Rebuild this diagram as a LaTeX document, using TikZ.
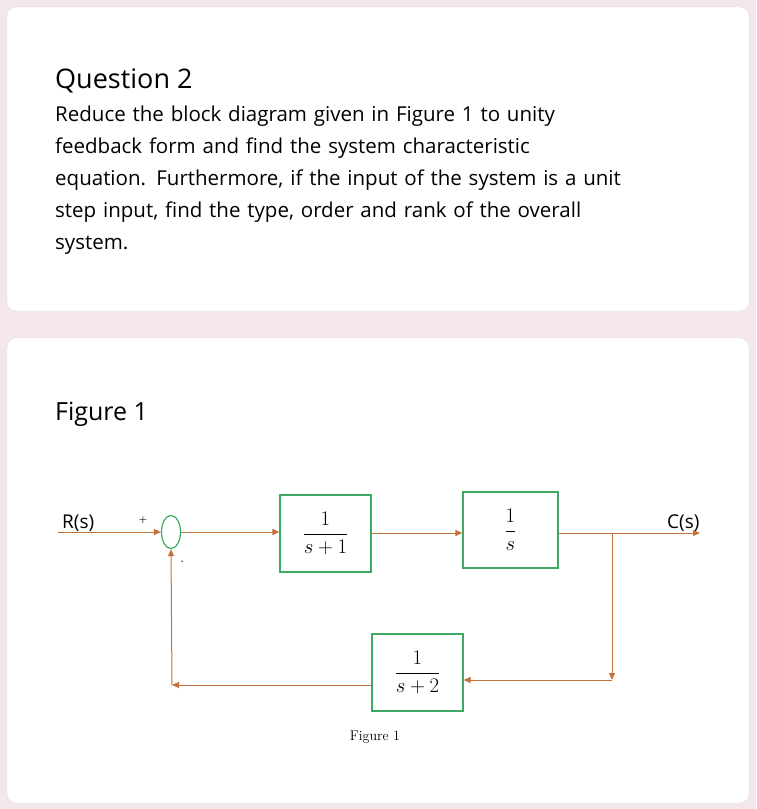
\documentclass[tikz,border=0pt]{standalone}
\usepackage{amsmath}
\usepackage{fontspec}
\newfontfamily\uif{Open Sans}
\usetikzlibrary{arrows.meta,shapes.geometric}
\definecolor{bgc}{HTML}{F3E7EC}
\definecolor{wire}{HTML}{C4713B}
\definecolor{boxg}{HTML}{3DAA64}
\begin{document}
\begin{tikzpicture}[x=1pt,y=-1pt,
  card/.style={fill=white,draw=black!12,rounded corners=9pt},
  blk/.style={draw=boxg,line width=1.2pt,fill=white,minimum width=91pt,minimum height=77pt,inner sep=0pt,font=\fontsize{22}{24}\selectfont},
  wl/.style={draw=wire,line width=1pt},
  ar/.style={-{Triangle[length=7pt,width=6pt]}},
  lab/.style={font=\uif\fontsize{19}{22}\selectfont,anchor=base west,inner sep=0pt}]
\fill[bgc] (0,0) rectangle (756,809);
\useasboundingbox (0,0) rectangle (756,809);
\draw[card] (7,7) rectangle (749,311);
\draw[card] (7,338) rectangle (749,803);
\node[font=\uif\fontsize{27}{30}\selectfont,anchor=base west,inner sep=0pt] (q) at (55,88) {Question 2};
\node[font=\uif\fontsize{20.5}{32}\selectfont,anchor=north west,inner sep=0pt,align=left,text width=690pt] (body) at (55,106)
 {Reduce the block diagram given in Figure 1 to unity\\feedback form and find the system characteristic\\equation. Furthermore, if the input of the system is a unit\\step input, find the type, order and rank of the overall\\system.};
\node[font=\uif\fontsize{25}{28}\selectfont,anchor=base west,inner sep=0pt] (f1) at (55,420) {Figure 1};
% diagram
\coordinate (rin) at (58,532);
\node[lab] (R) at (62,528) {R(s)};
\node[draw=boxg,line width=1.2pt,ellipse,minimum width=19pt,minimum height=33pt,inner sep=0pt] (sum) at (171,532) {};
\node[font=\bfseries\fontsize{9}{9}\selectfont] (plus) at (143,520) {+};
\node[font=\bfseries\fontsize{9}{9}\selectfont] (minus) at (182,562) {.};
\node[blk] (g1) at (325.5,533.5) {$\dfrac{1}{s+1}$};
\node[blk,minimum width=95pt,minimum height=76pt] (g2) at (510.5,530) {$\dfrac{1}{s}$};
\node[blk] (h) at (417.5,672.5) {$\dfrac{1}{s+2}$};
\node[lab] (C) at (667,528) {C(s)};
\coordinate (cout) at (700,533);
\coordinate (br) at (612,533);
\coordinate (brd) at (612,680);
\coordinate (fbl) at (172,685);
\draw[wl,ar] (rin) -- (sum.west);
\draw[wl,ar] (sum.east) -- (sum.east -| g1.west);
\draw[wl,ar] (g1.east |- 0,533) -- (g2.west |- 0,533);
\draw[wl,ar] (g2.east |- br) -- (cout);
\draw[wl,ar] (br) -- (brd);
\draw[wl,ar] (brd) -- (h.east |- brd);
\draw[wl,ar] (h.west |- fbl) -- (fbl);
\draw[wl,ar] (fbl) -- (sum.south);
\node[font=\fontsize{14}{16}\selectfont] (cap) at (375,737) {Figure 1};
\end{tikzpicture}
\end{document}
